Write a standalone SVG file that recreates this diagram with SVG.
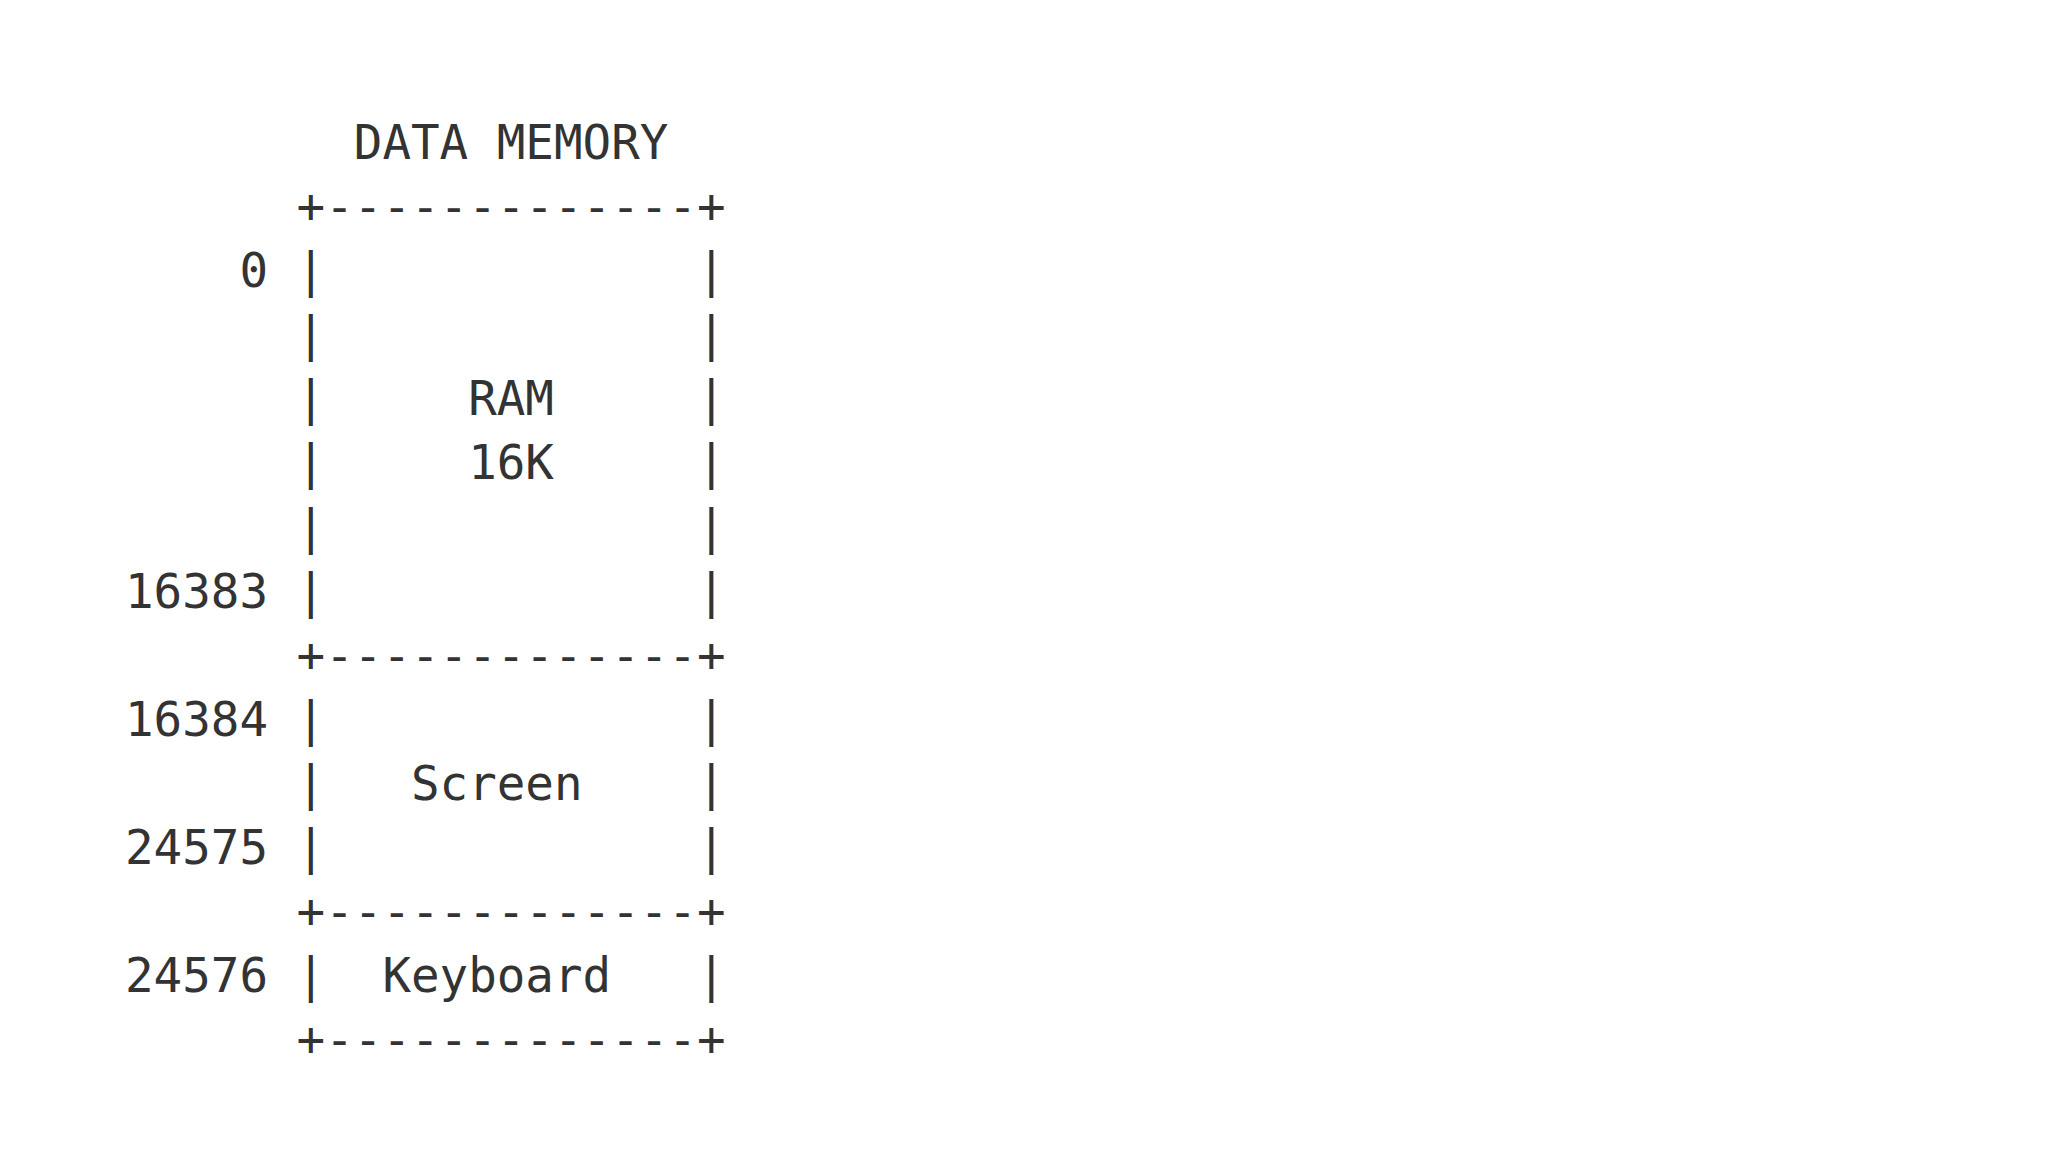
<svg xmlns="http://www.w3.org/2000/svg" width="2048" height="1152" viewBox="0 0 2048 1152">
<style>
text{font-family:"DejaVu Sans Mono","Liberation Mono",monospace;font-size:47.5px;fill:#333;white-space:pre}
</style>
<rect width="2048" height="1152" fill="#fff"/>
<g id="memory-map">
<text x="125" y="159" xml:space="preserve">        DATA MEMORY</text>
<text x="125" y="223" xml:space="preserve">      +-------------+</text>
<text x="125" y="287" xml:space="preserve">    0 |             |</text>
<text x="125" y="351" xml:space="preserve">      |             |</text>
<text x="125" y="415" xml:space="preserve">      |     RAM     |</text>
<text x="125" y="479" xml:space="preserve">      |     16K     |</text>
<text x="125" y="544" xml:space="preserve">      |             |</text>
<text x="125" y="608" xml:space="preserve">16383 |             |</text>
<text x="125" y="672" xml:space="preserve">      +-------------+</text>
<text x="125" y="736" xml:space="preserve">16384 |             |</text>
<text x="125" y="800" xml:space="preserve">      |   Screen    |</text>
<text x="125" y="864" xml:space="preserve">24575 |             |</text>
<text x="125" y="928" xml:space="preserve">      +-------------+</text>
<text x="125" y="992" xml:space="preserve">24576 |  Keyboard   |</text>
<text x="125" y="1056" xml:space="preserve">      +-------------+</text>
</g>
</svg>
